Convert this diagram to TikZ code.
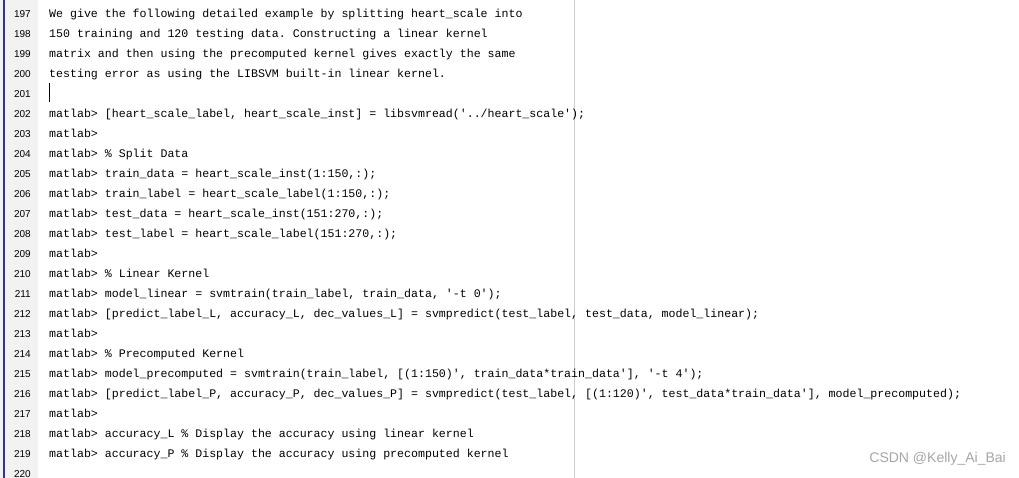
\documentclass[tikz,border=0pt]{standalone}
\usepackage{fontspec}
\setmonofont{Liberation Mono}
\setsansfont{Liberation Sans}
\begin{document}
\begin{tikzpicture}[x=1pt,y=-1pt,
  code/.style={anchor=base west,inner sep=0pt,font=\ttfamily\fontsize{11.6}{12}\selectfont},
  num/.style={anchor=base east,inner sep=0pt,font=\sffamily\fontsize{10}{12}\selectfont}]
\useasboundingbox (0,0) rectangle (1019,478);
\fill[white] (0,0) rectangle (1019,478);
\fill[gray!10] (0,0) rectangle (38,478);
\fill[blue!50!black!80] (3,0) rectangle (5,478);
\draw[gray!40] (574.5,0) -- (574.5,478);
\foreach \n [count=\i from 0] in {197,...,220}
  \node[num] (n\n) at (31,{17.5+20*\i}) {\n};
\newcommand\codeline[2]{\node[code] (l#1) at (49,{17.5+20*(#1-197)}) {#2};}
\codeline{197}{We give the following detailed example by splitting heart\_scale into}
\codeline{198}{150 training and 120 testing data.  Constructing a linear kernel}
\codeline{199}{matrix and then using the precomputed kernel gives exactly the same}
\codeline{200}{testing error as using the LIBSVM built-in linear kernel.}
\codeline{202}{matlab> [heart\_scale\_label, heart\_scale\_inst] = libsvmread('../heart\_scale');}
\codeline{203}{matlab>}
\codeline{204}{matlab> \% Split Data}
\codeline{205}{matlab> train\_data = heart\_scale\_inst(1:150,:);}
\codeline{206}{matlab> train\_label = heart\_scale\_label(1:150,:);}
\codeline{207}{matlab> test\_data = heart\_scale\_inst(151:270,:);}
\codeline{208}{matlab> test\_label = heart\_scale\_label(151:270,:);}
\codeline{209}{matlab>}
\codeline{210}{matlab> \% Linear Kernel}
\codeline{211}{matlab> model\_linear = svmtrain(train\_label, train\_data, '-t 0');}
\codeline{212}{matlab> [predict\_label\_L, accuracy\_L, dec\_values\_L] = svmpredict(test\_label, test\_data, model\_linear);}
\codeline{213}{matlab>}
\codeline{214}{matlab> \% Precomputed Kernel}
\codeline{215}{matlab> model\_precomputed = svmtrain(train\_label, [(1:150)', train\_data*train\_data'], '-t 4');}
\codeline{216}{matlab> [predict\_label\_P, accuracy\_P, dec\_values\_P] = svmpredict(test\_label, [(1:120)', test\_data*train\_data'], model\_precomputed);}
\codeline{217}{matlab>}
\codeline{218}{matlab> accuracy\_L \% Display the accuracy using linear kernel}
\codeline{219}{matlab> accuracy\_P \% Display the accuracy using precomputed kernel}
\coordinate (c1) at (49.5,83);
\coordinate (c2) at (49.5,102);
\draw[black,line width=0.8pt] (c1) -- (c2);
\node[anchor=east,inner sep=0pt,text=gray!70,font=\sffamily\fontsize{14}{16}\selectfont] (wm) at (1006,459) {CSDN @Kelly\_Ai\_Bai};
\end{tikzpicture}
\end{document}
